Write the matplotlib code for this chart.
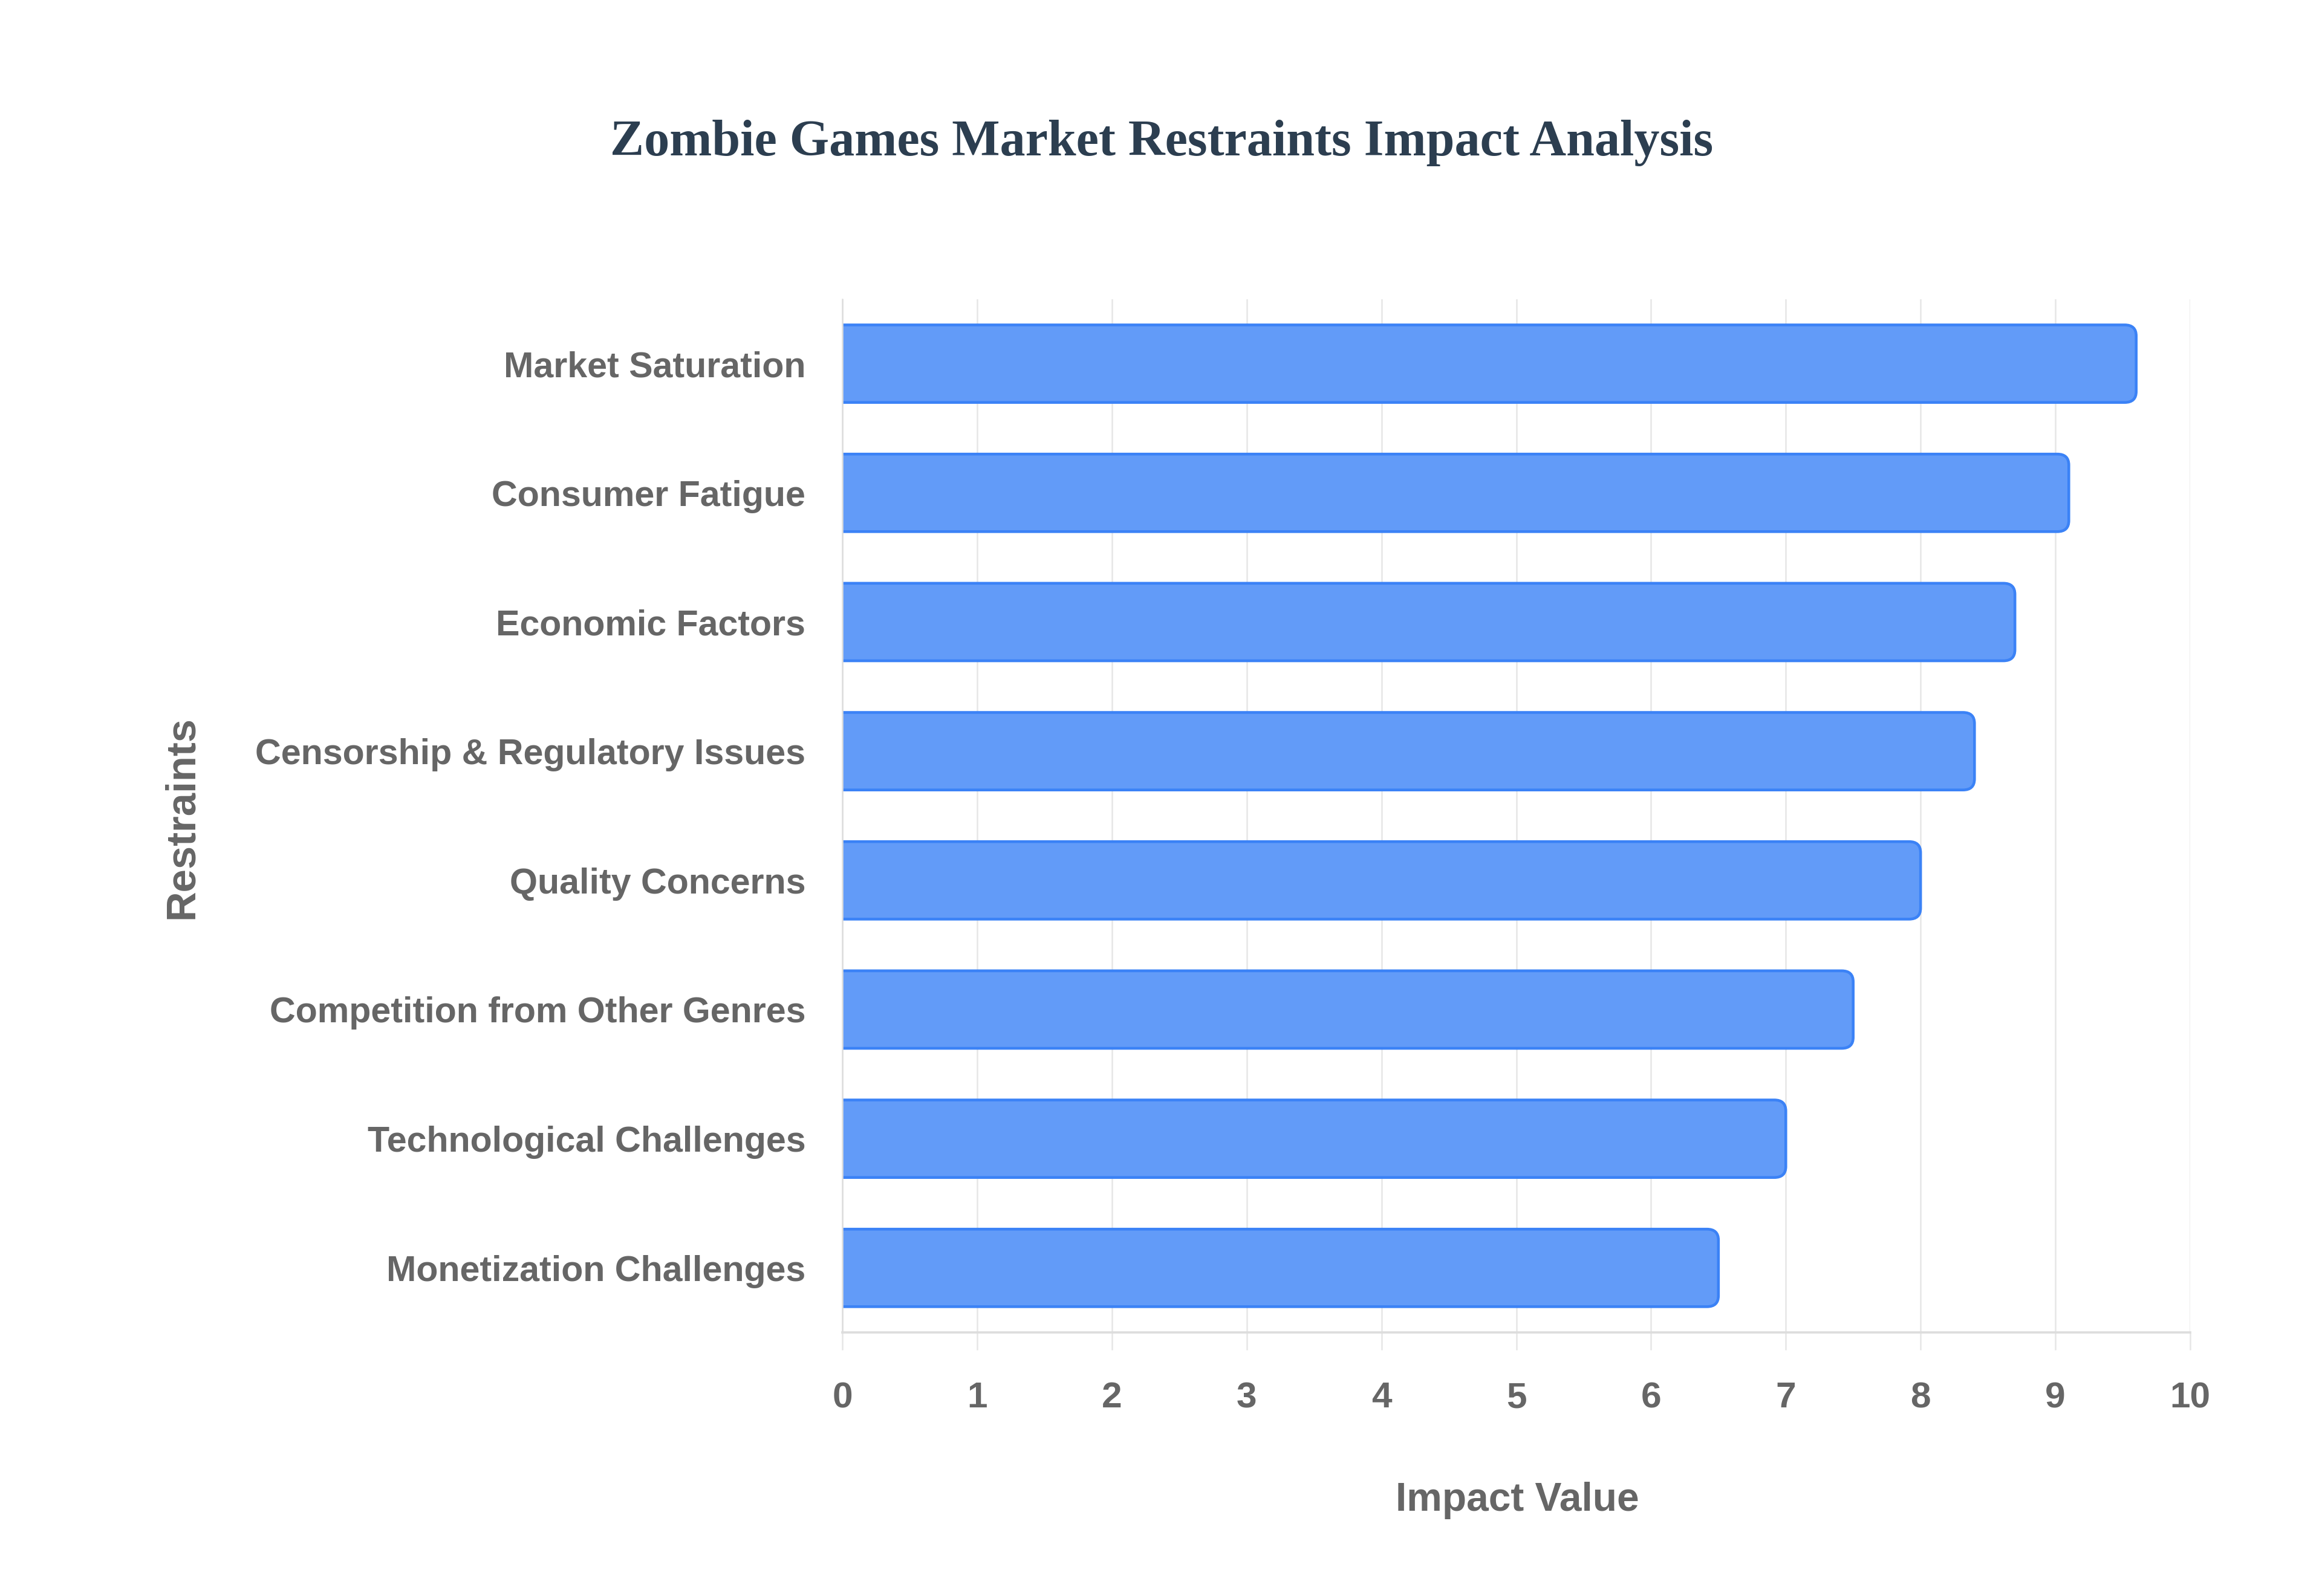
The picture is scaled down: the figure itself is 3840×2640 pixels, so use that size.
import matplotlib
matplotlib.use("Agg")
import matplotlib.pyplot as plt
from matplotlib.patches import FancyBboxPatch

categories = [
    "Market Saturation",
    "Consumer Fatigue",
    "Economic Factors",
    "Censorship & Regulatory Issues",
    "Quality Concerns",
    "Competition from Other Genres",
    "Technological Challenges",
    "Monetization Challenges",
]
values = [9.6, 9.1, 8.7, 8.4, 8.0, 7.5, 7.0, 6.5]
x_ticks = [0, 1, 2, 3, 4, 5, 6, 7, 8, 9, 10]

title = "Zombie Games Market Restraints Impact Analysis"
x_label = "Impact Value"
y_label = "Restraints"

fill_color = "#629BF8"
edge_color = "#3B82F6"
text_color = "#666666"
grid_color = "#E6E6E6"

fig = plt.figure(figsize=(12.8, 8.8), dpi=300)
ax = fig.add_axes([0.3628, 0.1651, 0.5804, 0.6475])

sans = ["Liberation Sans", "DejaVu Sans"]
serif = ["Liberation Serif", "DejaVu Serif"]

bar_h = 0.6
ypos = list(range(len(categories)))
for y, v in zip(ypos, values):
    left = -0.3
    p = FancyBboxPatch((left, y - bar_h / 2), v - left, bar_h,
                       boxstyle="round,pad=0,rounding_size=0.085",
                       mutation_aspect=1.0,
                       facecolor=fill_color, edgecolor=edge_color,
                       linewidth=1.1, zorder=3, clip_on=True)
    ax.add_patch(p)

ax.set_xlim(0, 10)
ax.set_ylim(len(categories) - 0.5, -0.5)
ax.set_yticks(ypos)
ax.set_yticklabels(categories, fontfamily=sans, fontweight="bold",
                   fontsize=14.2, color=text_color)
ax.set_xticks(x_ticks)
ax.set_xticklabels([str(t) for t in x_ticks], fontfamily=sans,
                   fontweight="bold", fontsize=14.5, color=text_color)

ax.tick_params(axis="y", length=0, pad=14.6)
ax.tick_params(axis="x", length=7, width=0.6, color=grid_color, pad=12.5)

ax.grid(axis="x", color=grid_color, linewidth=0.6, zorder=0)
ax.set_axisbelow(True)

for s in ["top", "right"]:
    ax.spines[s].set_visible(False)
ax.spines["left"].set_color("#DDDDDD")
ax.spines["left"].set_linewidth(0.6)
ax.spines["left"].set_zorder(4)
ax.spines["bottom"].set_color("#DDDDDD")
ax.spines["bottom"].set_linewidth(0.9)

fig.text(0.5003, 0.9105, title, ha="center", va="center",
         fontfamily=serif, fontweight="bold", fontsize=20.2, color="#2C3E50")
fig.text(0.6534, 0.0600, x_label, ha="center", va="center",
         fontfamily=sans, fontweight="bold", fontsize=15.8, color=text_color)
fig.text(0.0784, 0.4879, y_label, ha="center", va="center", rotation=90,
         fontfamily=sans, fontweight="bold", fontsize=16.5, color=text_color)

fig.savefig("out.png", dpi=300, facecolor="white")
